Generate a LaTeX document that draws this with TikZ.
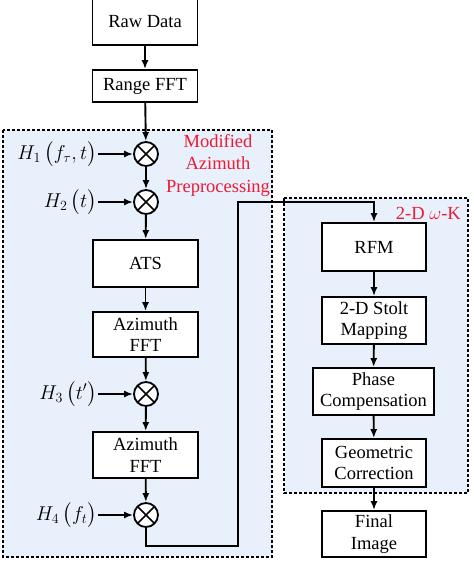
\documentclass[tikz,border=0pt]{standalone}
\usepackage{fix-cm}
\usepackage{exscale}
\usepackage{fontspec}
\setmainfont{Liberation Serif}
\usepackage{tikz}
\usetikzlibrary{arrows.meta}
\usetikzlibrary{calc}
\definecolor{regionblue}{RGB}{231,240,251}
\definecolor{labelred}{RGB}{235,28,52}
\tikzstyle{block}=[rectangle,draw,line width=1.8pt,fill=white,align=center,inner sep=1pt,font=\fontsize{18.5}{21.5}\selectfont]
\tikzstyle{mult}=[circle,draw,line width=1.8pt,fill=white,minimum size=24pt,inner sep=0pt,
  path picture={\draw[line width=1.7pt] (path picture bounding box.north west) -- (path picture bounding box.south east)
  (path picture bounding box.north east) -- (path picture bounding box.south west);}]
\tikzstyle{edge} = [draw,line width=1.9pt,-{Latex[length=9pt,width=7pt]}]
\tikzstyle{region} = [draw,fill=regionblue,line width=1.2pt,dash pattern=on 3pt off 2pt]
\tikzstyle{redlabel} = [text=labelred,align=center,inner sep=0pt,font=\fontsize{18.5}{22.5}\selectfont]
\tikzstyle{input} = [anchor=east,inner sep=1pt,font=\fontsize{20}{24}\selectfont]

\begin{document}
\begin{tikzpicture}[x=1pt,y=-1pt]

  \useasboundingbox (0,0) rectangle (474,568);

  % dashed processing regions
  \draw[region] (3,130) rectangle (272,557);
  \draw[region] (284,198) rectangle (468,493);

  \node[redlabel] (mapLabel) at (218,165) {Modified\\Azimuth\\Preprocessing};
  \node[redlabel,anchor=east] (wkLabel) at (461,213) {2-D $\omega$-K};

  % processing blocks
  \foreach \x/\y/\name/\label/\w/\h in {145/22/raw/{Raw Data}/105/46, 145/86/rng/{Range FFT}/105/32,
      145.5/263.5/ats/ATS/105/47, 145.5/334.5/azA/{Azimuth\\FFT}/105/45, 145.5/455/azB/{Azimuth\\FFT}/105/46,
      374/247/rfm/RFM/104/48, 374/320.5/stolt/{2-D Stolt\\Mapping}/104/47,
      373.5/391.5/phase/{Phase\\Compensation}/121/47, 374/463/geo/{Geometric\\Correction}/104/48,
      374/534/final/{Final\\Image}/104/46}
          \node[block,minimum width=\w pt,minimum height=\h pt] (\name) at (\x,\y) {\label};

  % multipliers and their inputs
  \foreach \y/\name in {154/mA, 202/mB, 394/mC, 515/mD}
          \node[mult] (\name) at (146,\y) {};

  \foreach \y/\name/\label in {154/hA/{$H_{1}\,\bigl(f_{\tau},t\bigr)$}, 202/hB/{$H_{2}\,\bigl(t\bigr)$},
      394/hC/{$H_{3}\,\bigl(t'\bigr)$}, 515/hD/{$H_{4}\,\bigl(f_{t}\bigr)$}}
          \node[input] (\name) at (98,\y) {\label};

  \foreach \source/ \dest in {raw/rng, rng/mA, mA/mB, mB/ats, ats/azA, azA/mC, mC/azB, azB/mD,
      hA/mA, hB/mB, hC/mC, hD/mD, rfm/stolt, stolt/phase, phase/geo, geo/final}
         \path[edge] (\source) -- (\dest);

  % link to the 2-D omega-K stage
  \coordinate (bendA) at (238,546);
  \coordinate (bendB) at (238,202);
  \path[edge] (mD.south) |- (bendA) -- (bendB) -| (rfm.north);

\end{tikzpicture}
\end{document}
